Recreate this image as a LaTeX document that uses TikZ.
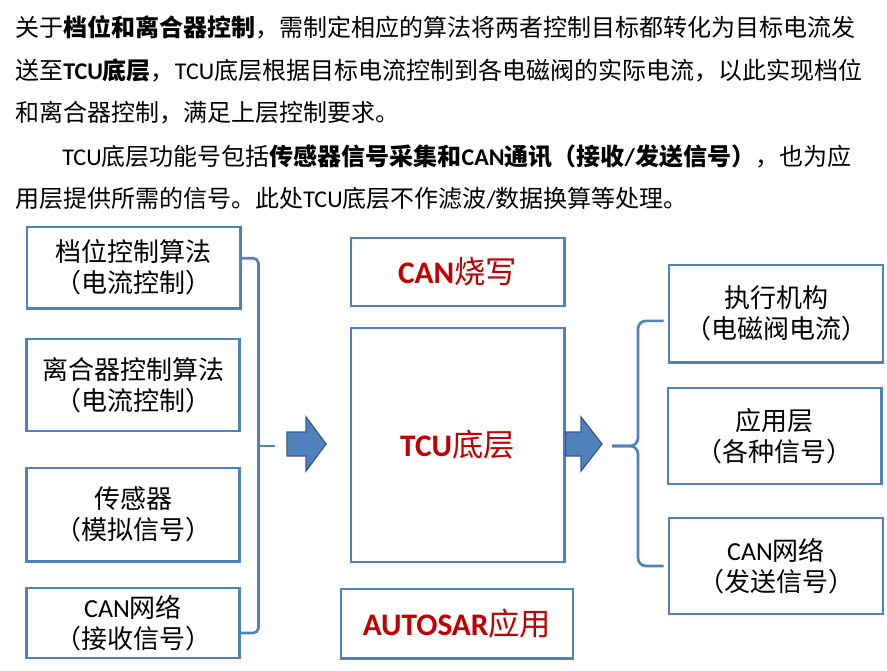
\documentclass[tikz,border=0pt]{standalone}
\usepackage{fontspec}
\setmainfont{Noto Sans CJK SC}
\newfontfamily\lat{Carlito}
\usetikzlibrary{positioning}
\definecolor{boxblue}{HTML}{4F81BD}
\definecolor{arrowedge}{HTML}{385D8A}
\definecolor{redtxt}{HTML}{C00000}

\begin{document}
\begin{tikzpicture}[x=0.75pt, y=-0.75pt,
  box/.style={draw=boxblue, line width=2pt, align=center, inner sep=0pt,
    font=\fontsize{19.5}{23.5}\selectfont},
  redbox/.style={box, text=redtxt, font=\fontsize{23.5}{27}\selectfont},
  brace/.style={draw=boxblue, line width=2pt, rounded corners=4pt},
  blockarrow/.style={fill=boxblue, draw=arrowedge, line width=1pt, line join=miter},
  para/.style={anchor=base west, inner sep=0pt, font=\fontsize{18}{22}\selectfont}]
  \path[fill=white, use as bounding box] (0,0) rectangle (887,670);

  % Paragraph above the diagram
  \node[para] (l1) at (15,37) {关于{\bfseries 档位和离合器控制}，需制定相应的算法将两者控制目标都转化为目标电流发};
  \node[para] (l2) at (15,80) {送至{\bfseries\lat TCU}{\bfseries 底层}，{\lat TCU}底层根据目标电流控制到各电磁阀的实际电流，以此实现档位};
  \node[para] (l3) at (15,122) {和离合器控制，满足上层控制要求。};
  \node[para] (l4) at (62,166) {{\lat TCU}底层功能号包括{\bfseries 传感器信号采集和{\lat CAN}通讯（接收{\lat /}发送信号）}，也为应};
  \node[para] (l5) at (15,208) {用层提供所需的信号。此处{\lat TCU}底层不作滤波{\lat /}数据换算等处理。};

  % Inputs
  \node[box, minimum width=160pt, minimum height=61pt] (b1) at (133.5,267.5) {档位控制算法\\（电流控制）};
  \node[box, minimum width=160pt, minimum height=69pt] (b2) at (133,385) {离合器控制算法\\（电流控制）};
  \node[box, minimum width=160pt, minimum height=70pt] (b3) at (133,514.5) {传感器\\（模拟信号）};
  \node[box, minimum width=160pt, minimum height=52.5pt] (b4) at (133,623) {{\lat CAN}网络\\（接收信号）};

  % TCU layer
  \node[redbox, minimum width=160pt, minimum height=51pt] (can) at (457.5,272) {{\lat\bfseries CAN}烧写};
  \node[redbox, minimum width=160pt, minimum height=175.5pt] (tcu) at (457.5,445) {{\lat\bfseries TCU}底层};
  \node[redbox, minimum width=174pt, minimum height=52pt] (asr) at (457,623.5) {{\lat\bfseries AUTOSAR}应用};

  % Outputs
  \node[box, minimum width=160.5pt, minimum height=73pt] (r1) at (776,313.5) {执行机构\\（电磁阀电流）};
  \node[box, minimum width=160pt, minimum height=72pt] (r2) at (774.5,436) {应用层\\（各种信号）};
  \node[box, minimum width=160.5pt, minimum height=72pt] (r3) at (776,566) {{\lat CAN}网络\\（发送信号）};

  % Left bracket
  \coordinate (ltip) at (275,446);
  \draw[brace] ([yshift=7pt]b1.east) -- ++(17,0) |- ([yshift=-7.5pt]b4.east);
  \draw[brace] ([xshift=-13.5pt]ltip) -- (ltip);

  % Right brace
  \coordinate (rtip) at (612,446);
  \draw[brace, rounded corners=6pt] ([xshift=-3pt,yshift=-5.5pt]r1.west) -| ([xshift=19.5pt]rtip) -- (rtip);
  \draw[brace, rounded corners=6pt] ([xshift=-3pt]r3.west) -| ([xshift=19.5pt]rtip) -- (rtip);

  % Block arrows
  \draw[blockarrow] (287,432) -- (306,432) -- (306,417) -- (326,444) -- (306,471) -- (306,456) -- (287,456) -- cycle;
  \draw[blockarrow] (tcu.east |- 0,432) -- (581,432) -- (581,417) -- (602,444) -- (581,471) -- (581,456) -- (tcu.east |- 0,456) -- cycle;
\end{tikzpicture}
\end{document}
